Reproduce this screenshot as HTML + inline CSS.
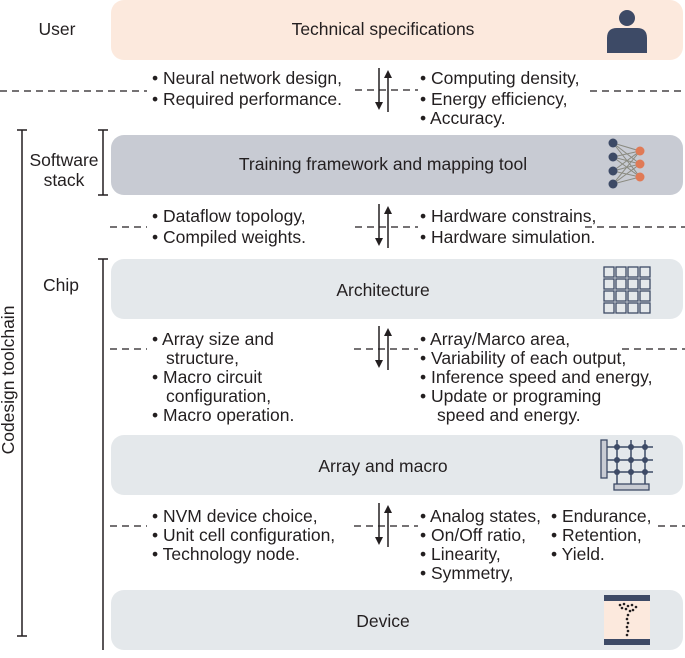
<!DOCTYPE html>
<html><head><meta charset="utf-8"><style>
body{margin:0;background:#fff}
svg text{font-family:"Liberation Sans",sans-serif;fill:#231f20}
</style></head><body>
<svg width="685" height="653" viewBox="0 0 685 653" xmlns="http://www.w3.org/2000/svg">
<defs><marker id="ah" markerWidth="8" markerHeight="8" refX="4" refY="4" orient="auto" markerUnits="userSpaceOnUse"><path d="M0,0 L8,4 L0,8 Z" fill="#231f20"/></marker></defs>
<rect x="111" y="0" width="572" height="60" rx="13" fill="#fce9dd"/>
<rect x="111" y="135" width="572" height="60" rx="13" fill="#c8cbd3"/>
<rect x="111" y="259" width="572" height="60" rx="13" fill="#e4e8eb"/>
<rect x="111" y="435" width="572" height="60" rx="13" fill="#e4e8eb"/>
<rect x="111" y="590" width="572" height="60" rx="13" fill="#e4e8eb"/>
<g font-size="17.5" text-anchor="middle">
<text x="383" y="35">Technical specifications</text>
<text x="383" y="170">Training framework and mapping tool</text>
<text x="383" y="296">Architecture</text>
<text x="383" y="472">Array and macro</text>
<text x="383" y="627">Device</text>
<text x="57" y="35">User</text>
<text x="64" y="166">Software</text>
<text x="64" y="186">stack</text>
<text x="61" y="291">Chip</text>
<text transform="translate(14,380) rotate(-90)">Codesign toolchain</text>
</g>
<g stroke="#231f20" stroke-width="1.5" fill="none">
<path d="M22,130V636 M17,130H27 M17,636H27"/>
<path d="M103,130V195 M98,130H108 M98,195H108"/>
<path d="M103,259V650 M98,259H108"/>
</g>
<g stroke="#231f20" stroke-width="1.3" stroke-dasharray="7,5" fill="none">
<path d="M0,91H147 M355,90H418 M590,91H685"/>
<path d="M110,227H147 M355,227H418 M585,227H685"/>
<path d="M110,349H147 M354,349H418 M622,349H685"/>
<path d="M110,526H147 M354,526H418 M658,526H685"/>
</g>
<g stroke="#231f20" stroke-width="1.5">
<line x1="379" y1="68" x2="379" y2="106" marker-end="url(#ah)"/><line x1="388" y1="112" x2="388" y2="74" marker-end="url(#ah)"/>
<line x1="379" y1="204" x2="379" y2="242" marker-end="url(#ah)"/><line x1="388" y1="248" x2="388" y2="210" marker-end="url(#ah)"/>
<line x1="379" y1="326" x2="379" y2="364" marker-end="url(#ah)"/><line x1="388" y1="370" x2="388" y2="332" marker-end="url(#ah)"/>
<line x1="379" y1="503" x2="379" y2="541" marker-end="url(#ah)"/><line x1="388" y1="547" x2="388" y2="509" marker-end="url(#ah)"/>
</g>
<g font-size="17.5">
<text x="152" y="84">• Neural network design,</text>
<text x="152" y="105">• Required performance.</text>
<text x="420" y="84">• Computing density,</text>
<text x="420" y="105">• Energy efficiency,</text>
<text x="420" y="124">• Accuracy.</text>
<text x="152" y="222">• Dataflow topology,</text>
<text x="152" y="243">• Compiled weights.</text>
<text x="420" y="222">• Hardware constrains,</text>
<text x="420" y="243">• Hardware simulation.</text>
<text x="152" y="345">• Array size and</text>
<text x="166" y="364">structure,</text>
<text x="152" y="383">• Macro circuit</text>
<text x="166" y="402">configuration,</text>
<text x="152" y="421">• Macro operation.</text>
<text x="420" y="345">• Array/Marco area,</text>
<text x="420" y="364">• Variability of each output,</text>
<text x="420" y="383">• Inference speed and energy,</text>
<text x="420" y="402">• Update or programing</text>
<text x="437" y="421">speed and energy.</text>
<text x="152" y="522">• NVM device choice,</text>
<text x="152" y="541">• Unit cell configuration,</text>
<text x="152" y="560">• Technology node.</text>
<text x="420" y="522">• Analog states,</text>
<text x="420" y="541">• On/Off ratio,</text>
<text x="420" y="560">• Linearity,</text>
<text x="420" y="579">• Symmetry,</text>
<text x="551" y="522">• Endurance,</text>
<text x="551" y="541">• Retention,</text>
<text x="551" y="560">• Yield.</text>
</g>
<g fill="#3d4a66"><circle cx="627" cy="18" r="8"/><path d="M607,53V38Q607,28 617,28H637Q647,28 647,38V53Z"/></g>
<g stroke="#8a8a80" stroke-width="1">
<path d="M613,143L640,151M613,143L640,164M613,143L640,177M613,157L640,151M613,157L640,164M613,157L640,177M613,171L640,151M613,171L640,164M613,171L640,177M613,184L640,151M613,184L640,164M613,184L640,177"/>
</g>
<g fill="#3d4a66"><circle cx="613" cy="143" r="4.5"/><circle cx="613" cy="157" r="4.5"/><circle cx="613" cy="171" r="4.5"/><circle cx="613" cy="184" r="4.5"/></g>
<g fill="#e07a56"><circle cx="640" cy="151" r="4.5"/><circle cx="640" cy="164" r="4.5"/><circle cx="640" cy="177" r="4.5"/></g>
<g fill="none" stroke="#3d4a66" stroke-width="1.3">
<rect x="604" y="267" width="10" height="10"/><rect x="616" y="267" width="10" height="10"/><rect x="628" y="267" width="10" height="10"/><rect x="640" y="267" width="10" height="10"/>
<rect x="604" y="279" width="10" height="10"/><rect x="616" y="279" width="10" height="10"/><rect x="628" y="279" width="10" height="10"/><rect x="640" y="279" width="10" height="10"/>
<rect x="604" y="291" width="10" height="10"/><rect x="616" y="291" width="10" height="10"/><rect x="628" y="291" width="10" height="10"/><rect x="640" y="291" width="10" height="10"/>
<rect x="604" y="303" width="10" height="10"/><rect x="616" y="303" width="10" height="10"/><rect x="628" y="303" width="10" height="10"/><rect x="640" y="303" width="10" height="10"/>
</g>
<g stroke="#3d4a66" stroke-width="1.5">
<path d="M604,447H653M604,460H653M604,472H653M617,440V484M631,440V484M645,440V484"/>
</g>
<g fill="#3d4a66"><circle cx="617" cy="447" r="3"/><circle cx="631" cy="447" r="3"/><circle cx="645" cy="447" r="3"/><circle cx="617" cy="460" r="3"/><circle cx="631" cy="460" r="3"/><circle cx="645" cy="460" r="3"/><circle cx="617" cy="472" r="3"/><circle cx="631" cy="472" r="3"/><circle cx="645" cy="472" r="3"/></g>
<rect x="601" y="440" width="6" height="38" fill="#c8cbd3" stroke="#3d4a66" stroke-width="1.3"/>
<rect x="614" y="484" width="35" height="6" fill="#c8cbd3" stroke="#3d4a66" stroke-width="1.3"/>
<rect x="604" y="595" width="46" height="50" fill="#fce9dd"/>
<rect x="604" y="595" width="46" height="6" fill="#3d4a66"/>
<rect x="604" y="639" width="46" height="6" fill="#3d4a66"/>
<g fill="#231f20"><circle cx="620" cy="605" r="1.3"/><circle cx="624" cy="604" r="1.3"/><circle cx="628" cy="606" r="1.3"/><circle cx="632" cy="605" r="1.3"/><circle cx="636" cy="607" r="1.3"/><circle cx="626" cy="609" r="1.3"/><circle cx="630" cy="611" r="1.3"/><circle cx="628" cy="615" r="1.3"/><circle cx="627" cy="619" r="1.3"/><circle cx="628" cy="623" r="1.3"/><circle cx="627" cy="627" r="1.3"/><circle cx="628" cy="631" r="1.3"/><circle cx="627" cy="635" r="1.3"/><circle cx="633" cy="610" r="1.3"/><circle cx="622" cy="608" r="1.3"/></g>
</svg>
</body></html>
